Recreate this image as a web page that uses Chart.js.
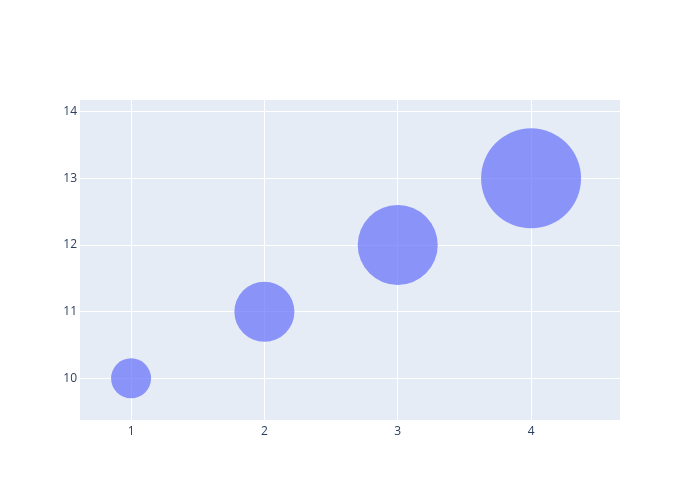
<!DOCTYPE html>
<html>
<head>
<meta charset="utf-8">
<script src="https://cdn.jsdelivr.net/npm/chart.js@4/dist/chart.umd.min.js"></script>
<style>
    html, body { margin: 0; padding: 0; background: #fff; }
    #wrap { width: 700px; height: 500px; }
</style>
</head>
<body>
<div id="wrap"><canvas id="bubbleChart" width="700" height="500"></canvas></div>
<script>
const xValues = [1, 2, 3, 4];
const yValues = [10, 11, 12, 13];
const markerSizes = [40, 60, 80, 100];

const xTicks = [1, 2, 3, 4];
const yTicks = [10, 11, 12, 13, 14];

const points = xValues.map((x, i) => ({ x, y: yValues[i], r: markerSizes[i] / 2 }));

const plotBackground = {
    id: 'plotBackground',
    beforeDraw(chart) {
        const { ctx, chartArea } = chart;
        ctx.save();
        ctx.fillStyle = '#e5ecf6';
        ctx.fillRect(chartArea.left, chartArea.top, chartArea.width, chartArea.height);
        ctx.restore();
    },
};

const fixedTicks = (values) => (scale) => {
    scale.ticks = values.map((value) => ({ value }));
};

new Chart(document.getElementById('bubbleChart'), {
    type: 'bubble',
    data: {
        datasets: [
            {
                data: points,
                backgroundColor: 'rgba(99, 110, 250, 0.7)',
                borderColor: 'rgba(99, 110, 250, 0.7)',
                borderWidth: 0,
                hoverRadius: 0,
            },
        ],
    },
    options: {
        responsive: false,
        animation: false,
        layout: {
            padding: { top: 100, right: 80, left: 0, bottom: 0 },
        },
        plugins: {
            legend: { display: false },
            tooltip: { enabled: false },
        },
        scales: {
            x: {
                type: 'linear',
                min: 0.617,
                max: 4.667,
                afterBuildTicks: fixedTicks(xTicks),
                afterFit: (scale) => { scale.height = 80; },
                border: { display: false },
                grid: { color: '#ffffff', lineWidth: 1, drawTicks: false },
                ticks: {
                    color: '#2a3f5f',
                    padding: 4,
                    font: { family: 'Open Sans', size: 12 },
                },
            },
            y: {
                type: 'linear',
                min: 9.375,
                max: 14.175,
                afterBuildTicks: fixedTicks(yTicks),
                afterFit: (scale) => { scale.width = 80; },
                border: { display: false },
                grid: { color: '#ffffff', lineWidth: 1, drawTicks: false },
                ticks: {
                    color: '#2a3f5f',
                    padding: 3,
                    font: { family: 'Open Sans', size: 12 },
                },
            },
        },
    },
    plugins: [plotBackground],
});
</script>
</body>
</html>
